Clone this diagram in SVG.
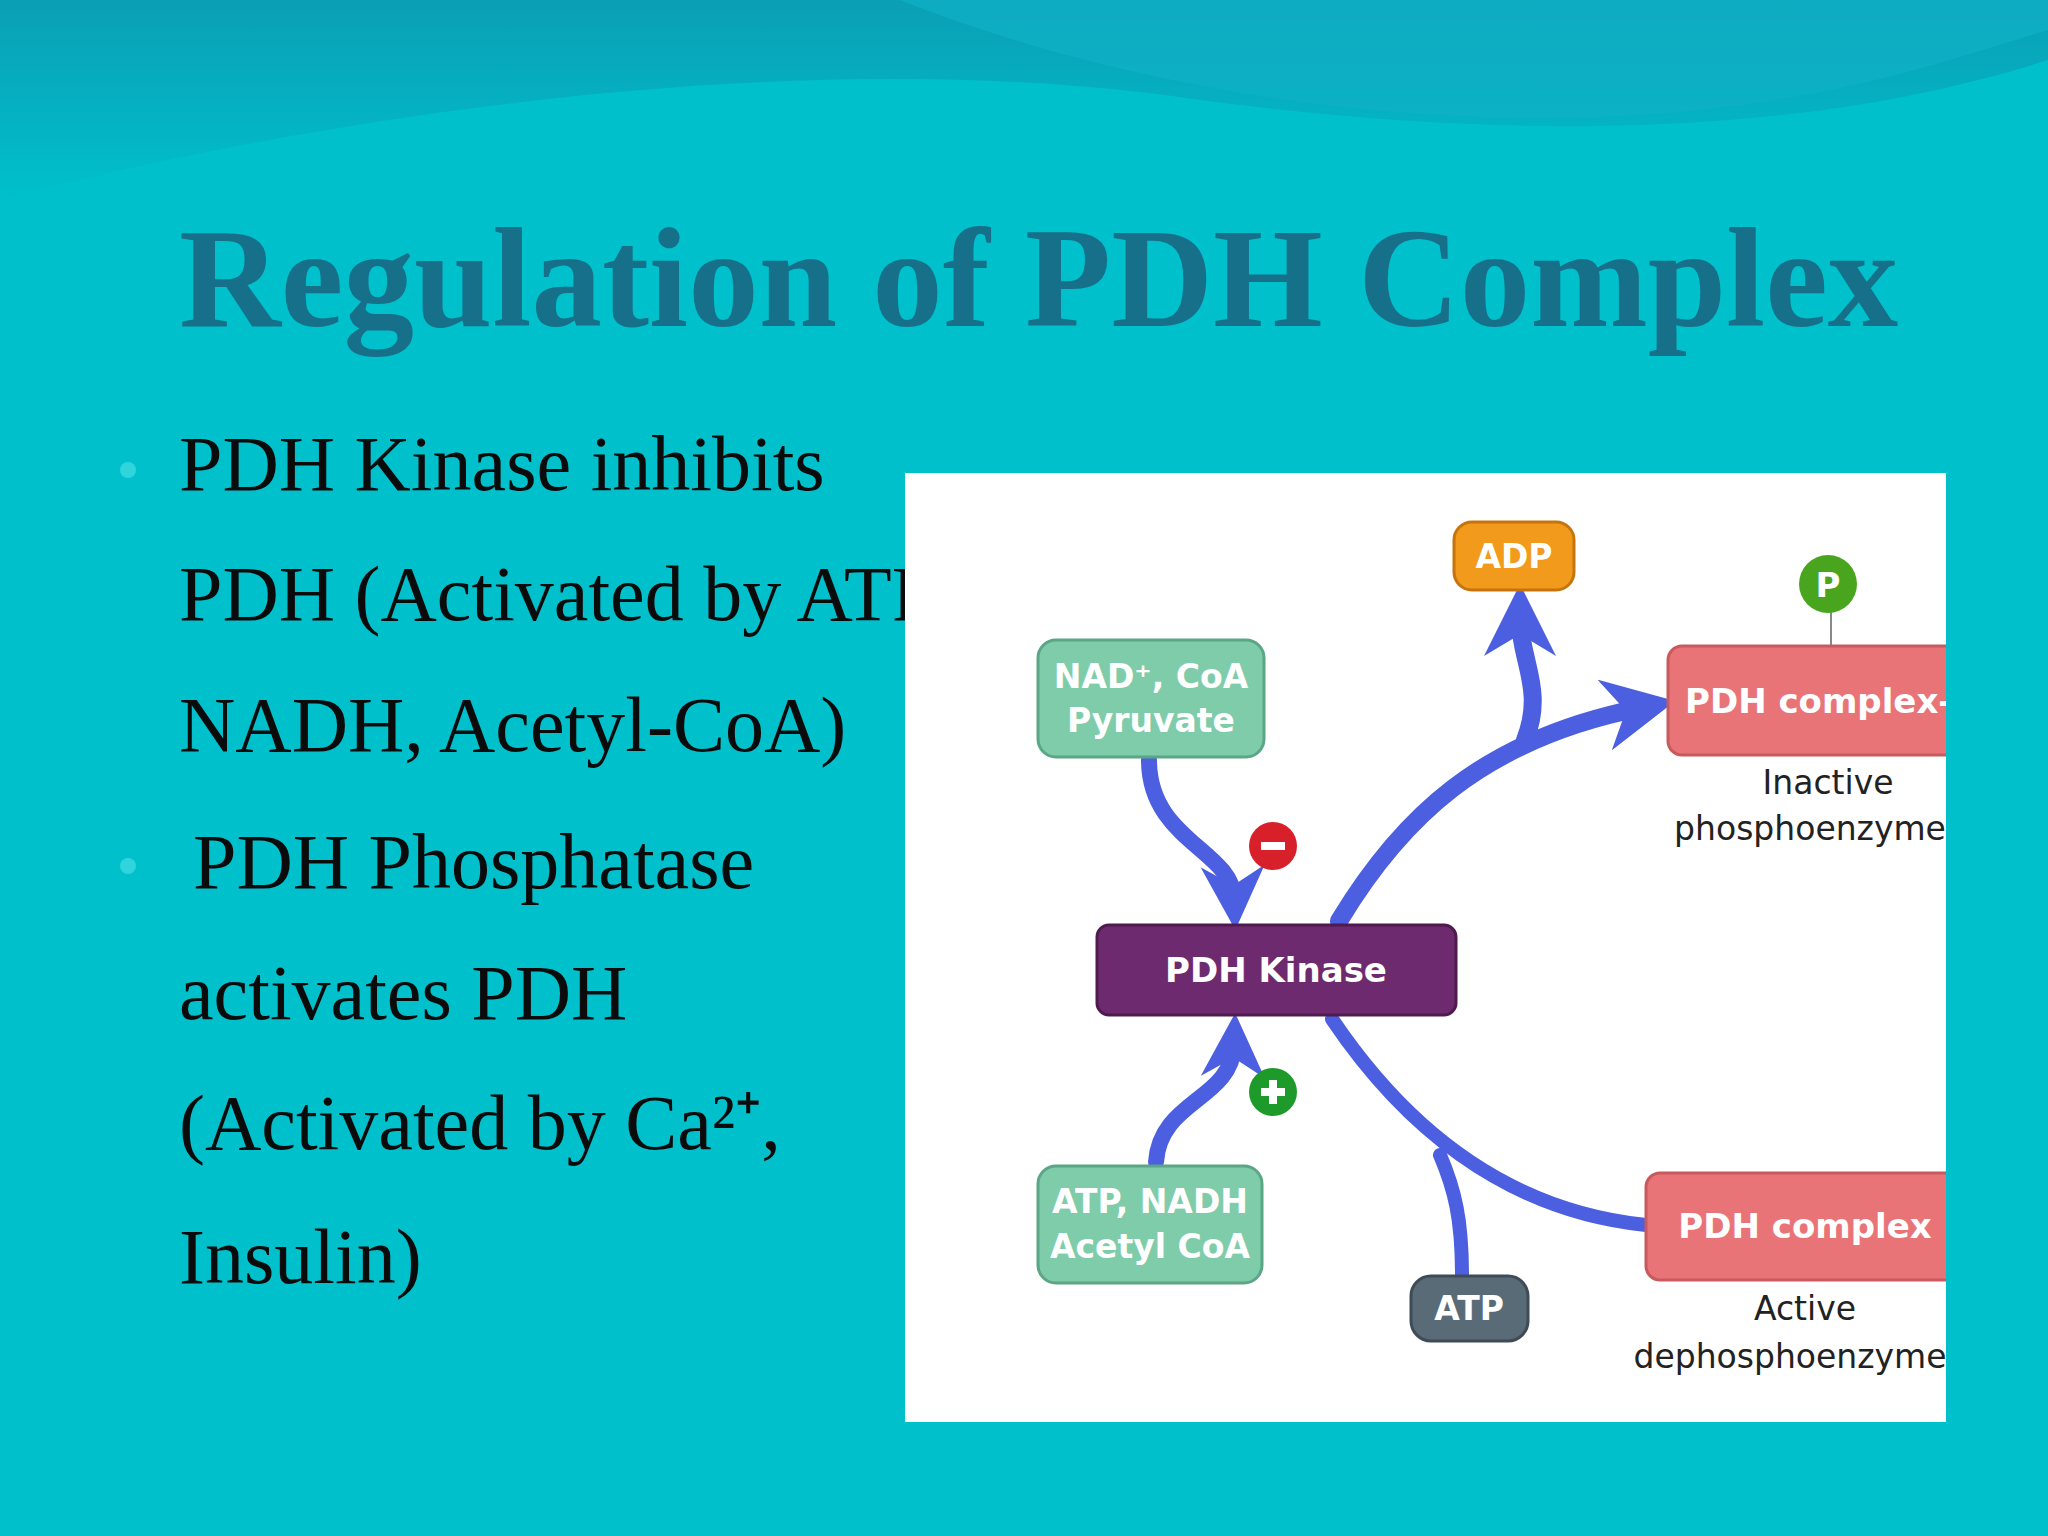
<svg xmlns="http://www.w3.org/2000/svg" width="2048" height="1536" viewBox="0 0 2048 1536">
<defs>
<linearGradient id="top" x1="0" y1="0" x2="0" y2="1"><stop offset="0" stop-color="#0a9fb5"/><stop offset="1" stop-color="#00c0cc"/></linearGradient>
<marker id="ah" viewBox="0 0 10 10" refX="5" refY="5" markerWidth="4" markerHeight="4" orient="auto-start-reverse" markerUnits="strokeWidth"><path d="M0,0 L10,5 L0,10 L3,5 Z" fill="#4b5fe0"/></marker>
</defs>
<style>
.t{font-family:"Liberation Serif",serif;font-size:78px;fill:#0b0b0b}
.bx{font-family:"DejaVu Sans",sans-serif;font-weight:bold;fill:#fff;text-anchor:middle}
.lb{font-family:"DejaVu Sans",sans-serif;font-size:33px;fill:#222;text-anchor:middle}
.ar{fill:none;stroke:#4b5fe0;stroke-linecap:round}
</style>
<rect width="2048" height="1536" fill="#00c0cc"/>
<path d="M0,0 H2048 V60 C1800,140 1500,140 1200,100 C800,40 300,120 0,200 Z" fill="url(#top)"/>
<path d="M900,0 C1100,80 1400,140 1700,110 C1850,95 1950,60 2048,30 V0 Z" fill="#0fb0c6" opacity="0.7"/>
<text x="179" y="326" font-family="Liberation Serif,serif" font-weight="bold" font-size="141" fill="#16708a">Regulation of PDH Complex</text>
<circle cx="128" cy="470" r="8" fill="#30d4dc"/>
<circle cx="128" cy="866" r="8" fill="#30d4dc"/>
<text class="t" x="179" y="490">PDH Kinase inhibits</text>
<text class="t" x="179" y="620">PDH (Activated by ATP,</text>
<text class="t" x="179" y="751">NADH, Acetyl-CoA)</text>
<text class="t" x="193" y="888">PDH Phosphatase</text>
<text class="t" x="179" y="1019">activates PDH</text>
<text class="t" x="179" y="1149">(Activated by Ca²⁺,</text>
<text class="t" x="179" y="1283">Insulin)</text>
<svg x="905" y="473" width="1041" height="949" viewBox="905 473 1041 949">
<rect x="905" y="473" width="1041" height="949" fill="#fff"/>
<g id="connectors">
<path class="ar" d="M1149,760 C1149,840 1232,850 1234,898" stroke-width="16" marker-end="url(#ah)"/>
<path class="ar" d="M1156,1162 C1160,1100 1232,1100 1234,1045" stroke-width="16" marker-end="url(#ah)"/>
<path class="ar" d="M1339,921 C1400,820 1480,740 1640,708" stroke-width="18" marker-end="url(#ah)"/>
<path class="ar" d="M1525,740 C1545,690 1520,660 1520,620" stroke-width="18" marker-end="url(#ah)"/>
<path class="ar" d="M1332,1019 C1400,1120 1500,1210 1646,1225" stroke-width="14"/>
<path class="ar" d="M1462,1275 C1462,1220 1455,1190 1440,1155" stroke-width="14"/>
</g>
<g id="adp"><rect x="1454" y="522" width="120" height="68" rx="18" fill="#f19a1c" stroke="#c7740e" stroke-width="3"/><text class="bx" x="1514" y="568" font-size="33">ADP</text></g>
<g id="p"><line x1="1831" y1="610" x2="1831" y2="648" stroke="#888" stroke-width="2"/><circle cx="1828" cy="584" r="29" fill="#4aa51e"/><text class="bx" x="1828" y="597" font-size="34">P</text></g>
<g id="inactive"><rect x="1668" y="646" width="300" height="109" rx="14" fill="#e97478" stroke="#c85a5e" stroke-width="3"/><text class="bx" x="1685" y="713" font-size="34" style="text-anchor:start">PDH complex-</text>
<text class="lb" x="1828" y="794">Inactive</text><text class="lb" x="1810" y="840">phosphoenzyme</text></g>
<g id="nad"><rect x="1038" y="640" width="226" height="117" rx="18" fill="#7fccab" stroke="#5aa686" stroke-width="3"/><text class="bx" x="1151" y="688" font-size="33">NAD⁺, CoA</text><text class="bx" x="1151" y="732" font-size="33">Pyruvate</text></g>
<g id="minus"><circle cx="1273" cy="846" r="24" fill="#d8202a"/><rect x="1261" y="842" width="24" height="8" fill="#fff"/></g>
<g id="kinase"><rect x="1097" y="925" width="359" height="90" rx="12" fill="#6e2a6e" stroke="#4f1b4f" stroke-width="3"/><text class="bx" x="1276" y="982" font-size="34">PDH Kinase</text></g>
<g id="plus"><circle cx="1273" cy="1092" r="24" fill="#1e9a2a"/><rect x="1261" y="1088" width="24" height="8" fill="#fff"/><rect x="1269" y="1080" width="8" height="24" fill="#fff"/></g>
<g id="atpnadh"><rect x="1038" y="1166" width="224" height="117" rx="18" fill="#7fccab" stroke="#5aa686" stroke-width="3"/><text class="bx" x="1150" y="1213" font-size="33">ATP, NADH</text><text class="bx" x="1150" y="1258" font-size="33">Acetyl CoA</text></g>
<g id="atp"><rect x="1411" y="1276" width="117" height="65" rx="20" fill="#5a6b78" stroke="#3f4c57" stroke-width="3"/><text class="bx" x="1469" y="1320" font-size="33">ATP</text></g>
<g id="active"><rect x="1646" y="1173" width="320" height="107" rx="14" fill="#e97478" stroke="#c85a5e" stroke-width="3"/><text class="bx" x="1805" y="1238" font-size="34">PDH complex</text>
<text class="lb" x="1805" y="1320">Active</text><text class="lb" x="1790" y="1368">dephosphoenzyme</text></g>
</svg>
</svg>
